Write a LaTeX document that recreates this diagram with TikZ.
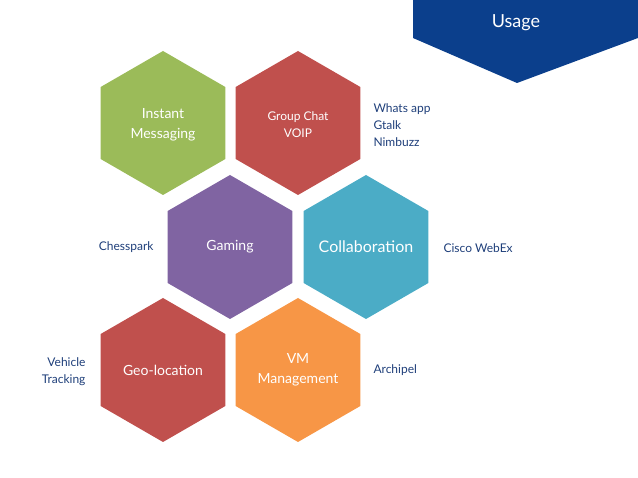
\documentclass[tikz,border=0pt]{standalone}
\usepackage{fontspec}
\setmainfont{Lato}
\definecolor{hgreen}{HTML}{9BBB59}
\definecolor{hred}{HTML}{C0504D}
\definecolor{hpurple}{HTML}{8064A2}
\definecolor{hteal}{HTML}{4BACC6}
\definecolor{horange}{HTML}{F79646}
\definecolor{navy}{HTML}{0B3F8C}
\definecolor{lbl}{HTML}{1F3F7A}
\newcommand{\hexat}[3]{\fill[#3] (#1,#2) +(90:72) -- +(150:72) -- +(210:72) -- +(270:72) -- +(330:72) -- +(30:72) -- cycle;}
\begin{document}
\begin{tikzpicture}[x=1pt,y=-1pt,
  htext/.style={text=white,align=center,font=\fontsize{14}{20}\selectfont},
  side/.style={text=lbl,font=\fontsize{12}{17}\selectfont}]
\useasboundingbox (0,0) rectangle (638,478);
\fill[navy] (413,0) -- (638,0) -- (638,38) -- (517,83) -- (413,38) -- cycle;
\node[text=white,font=\fontsize{18}{22}\selectfont] (usage) at (516,23) {Usage};
\hexat{163}{123}{hgreen}
\hexat{298}{123}{hred}
\hexat{230}{247}{hpurple}
\hexat{366}{247}{hteal}
\hexat{163}{370}{hred}
\hexat{298}{370}{horange}
\node[htext] (im) at (163,125) {Instant\\Messaging};
\node[htext,font=\fontsize{12}{17}\selectfont] (gc) at (298,125) {Group Chat\\VOIP};
\node[htext] (gm) at (230,247) {Gaming};
\node[htext,font=\fontsize{16}{20}\selectfont] (co) at (366,247) {Collaboration};
\node[htext] (geo) at (163,370) {Geo-location};
\node[htext] (vm) at (298,370) {VM\\Management};
\node[side,anchor=west,align=left] (wa) at (370,125) {Whats app\\Gtalk\\Nimbuzz};
\node[side,anchor=east] (cp) at (157,247) {Chesspark};
\node[side,anchor=west] (cw) at (440,248) {Cisco WebEx};
\node[side,anchor=east,align=right] (vt) at (89,372) {Vehicle\\Tracking};
\node[side,anchor=west] (ar) at (370,370) {Archipel};
\end{tikzpicture}
\end{document}
